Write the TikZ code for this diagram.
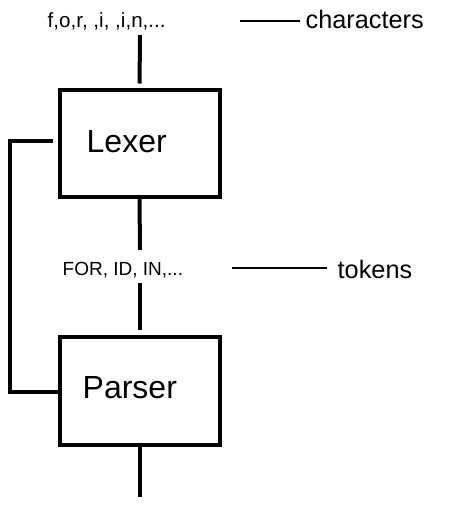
\documentclass[tikz,border=0pt]{standalone}
\usepackage{fontspec}
\setmainfont{Liberation Sans}
\tikzset{
  box/.style={draw, line width=4pt, inner sep=0pt, minimum width=160pt, minimum height=107pt},
  conn/.style={line width=4pt},
  thin/.style={line width=2.5pt},
  small/.style={anchor=base west, inner sep=0pt, font=\fontsize{20.6}{24}\selectfont},
  side/.style={anchor=base west, inner sep=0pt, font=\fontsize{25.3}{30}\selectfont},
  big/.style={anchor=base west, inner sep=0pt, font=\fontsize{32}{38}\selectfont},
}
\begin{document}
\begin{tikzpicture}[x=1pt, y=-1pt]
\useasboundingbox (0,0) rectangle (474,509);
% boxes
\node[box] (lexer) at (139.5,143) {};
\node[box, minimum height=108pt] (parser) at (140,391) {};
\node[big] (lexertext) at (86.5,152) {Lexer};
\node[big] (parsertext) at (82.5,398) {Parser};
% labels
\node[small] (chars) at (47.5,27) {f,o,r, ,i, ,i,n,...};
\node[side] (charsname) at (305.5,28) {characters};
\node[small, font=\fontsize{19}{23}\selectfont] (toks) at (62.5,275) {FOR, ID, IN,...};
\node[side] (toksname) at (337.5,278) {tokens};
% coordinates
\coordinate (in) at (140,35);
\coordinate (tk1) at (140,250);
\coordinate (tk2) at (140,283);
\coordinate (out) at (140,497);
\coordinate (fbA) at (10,141);
\coordinate (fbB) at (10,392);
\coordinate (cd1) at (240,21);
\coordinate (cd2) at (300,21);
\coordinate (td1) at (232,268);
\coordinate (td2) at (327,268);
% connectors
\draw[conn, shorten >=4pt] (in) -- (lexer.north);
\draw[conn] (lexer.south) -- (tk1);
\draw[conn, shorten >=5pt] (tk2) -- (parser.north);
\draw[conn] (parser.south) -- (out);
\draw[conn] ([xshift=-5pt]lexer.west |- fbA) -- (fbA) -- (fbB) -- (parser.west |- fbB);
\draw[thin] (cd1) -- (cd2);
\draw[thin] (td1) -- (td2);
\end{tikzpicture}
\end{document}
